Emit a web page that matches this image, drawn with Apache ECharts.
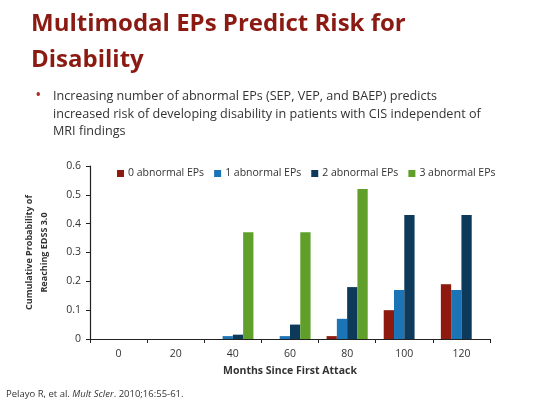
<!DOCTYPE html>
<html>
<head>
<meta charset="utf-8">
<script src="https://cdn.jsdelivr.net/npm/echarts@6/dist/echarts.min.js"></script>
<style>
  html, body { margin: 0; padding: 0; background: #fff; }
  #chart { width: 540px; height: 405px; }
</style>
</head>
<body>
<div id="chart"></div>
<script>
var months = ['0', '20', '40', '60', '80', '100', '120'];
var seriesNames = ['0 abnormal EPs', '1 abnormal EPs', '2 abnormal EPs', '3 abnormal EPs'];
var ep0 = [0, 0, 0, 0, 0.01, 0.10, 0.19];
var ep1 = [0, 0, 0.01, 0.01, 0.07, 0.17, 0.17];
var ep2 = [0, 0, 0.015, 0.05, 0.18, 0.43, 0.43];
var ep3 = [0, 0, 0.37, 0.37, 0.52, 0, 0];
var yTicks = [0, 0.1, 0.2, 0.3, 0.4, 0.5, 0.6];
var colors = ['#8e1a0f', '#1b74b6', '#0d395b', '#5f9f2a'];

var font = '"Open Sans", sans-serif';
var myChart = echarts.init(document.getElementById('chart'));

function bar(i, values) {
    return {
        name: seriesNames[i],
        type: 'bar',
        data: values,
        barGap: '0%',
        barCategoryGap: '28%',
        itemStyle: { color: colors[i] }
    };
}

option = {
    animation: false,
    color: colors,
    textStyle: { fontFamily: font },
    graphic: [
        {
            type: 'text', left: 31, top: 6,
            style: {
                text: 'Multimodal EPs Predict Risk for\nDisability',
                font: 'bold 24px ' + font,
                fill: '#8b1a12',
                lineHeight: 36
            }
        },
        {
            type: 'text', left: 36, top: 90,
            style: { text: '•', font: 'bold 12px ' + font, fill: '#a8322a' }
        },
        {
            type: 'text', left: 53, top: 88,
            style: {
                text: 'Increasing number of abnormal EPs (SEP, VEP, and BAEP) predicts\nincreased risk of developing disability in patients with CIS independent of\nMRI findings',
                font: '12.6px ' + font,
                fill: '#333333',
                lineHeight: 17.5
            }
        },
        {
            type: 'text', left: 6, top: 389,
            style: {
                text: '{n|Pelayo R, et al. }{i|Mult Scler}{n|. 2010;16:55-61.}',
                rich: {
                    n: { font: '9.5px ' + font, fill: '#333333' },
                    i: { font: 'italic 9.5px ' + font, fill: '#333333' }
                }
            }
        }
    ],
    legend: {
        top: 163,
        left: 112,
        itemWidth: 7,
        itemHeight: 7,
        itemGap: 10,
        icon: 'rect',
        textStyle: { fontSize: 10.5, color: '#333333', fontFamily: font, padding: [0, 0, 0, -1] },
        data: seriesNames
    },
    grid: { left: 90, right: 50, top: 166, bottom: 66, containLabel: false },
    xAxis: {
        type: 'category',
        data: months,
        name: 'Months Since First Attack',
        nameLocation: 'middle',
        nameGap: 27,
        nameTextStyle: { fontWeight: 'bold', fontSize: 10.5, color: '#333333', fontFamily: font },
        axisLine: { lineStyle: { color: '#222222', width: 1.2 } },
        axisTick: { show: true, alignWithLabel: false, length: 4, lineStyle: { color: '#222222' } },
        axisLabel: { color: '#333333', fontSize: 10.5, margin: 10, fontFamily: font }
    },
    yAxis: {
        type: 'value',
        min: 0,
        max: 0.6,
        interval: 0.1,
        name: 'Cumulative Probability of\nReaching EDSS 3.0',
        nameLocation: 'middle',
        nameGap: 38,
        nameRotate: 90,
        nameTextStyle: { fontWeight: 'bold', fontSize: 9, color: '#333333', lineHeight: 15, fontFamily: font },
        splitLine: { show: false },
        axisLine: { show: true, lineStyle: { color: '#222222', width: 1.2 } },
        axisTick: { show: true, length: 4, lineStyle: { color: '#222222' } },
        axisLabel: {
            color: '#333333', fontSize: 10.5, margin: 9, fontFamily: font,
            formatter: function (v) {
                var t = yTicks.find(function (k) { return Math.abs(k - v) < 1e-9; });
                return t === 0 ? '0' : String(t);
            }
        }
    },
    series: [bar(0, ep0), bar(1, ep1), bar(2, ep2), bar(3, ep3)]
};
myChart.setOption(option);
</script>
</body>
</html>
